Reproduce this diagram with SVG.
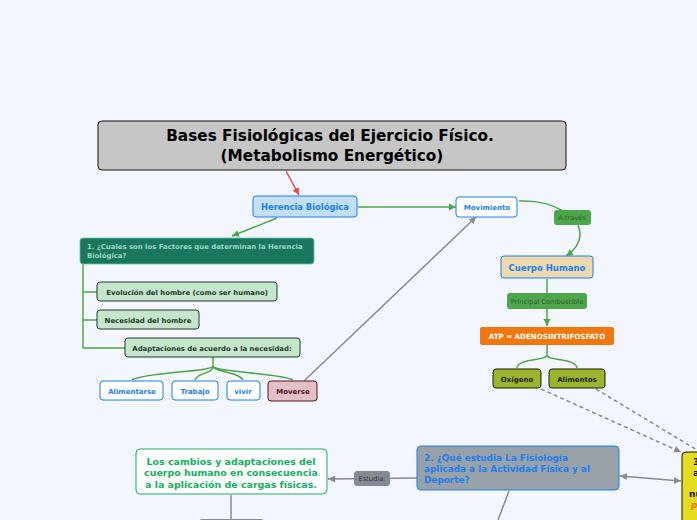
<svg xmlns="http://www.w3.org/2000/svg" width="697" height="520" viewBox="0 0 697 520">
<defs>
<marker id="ag" markerUnits="userSpaceOnUse" markerWidth="8" markerHeight="8" refX="7" refY="4" orient="auto-start-reverse"><path d="M0,0.5L7,4L0,7.5z" fill="#4ea64a"/></marker>
<marker id="ar" markerUnits="userSpaceOnUse" markerWidth="8" markerHeight="8" refX="7" refY="4" orient="auto-start-reverse"><path d="M0,0.5L7,4L0,7.5z" fill="#e8483f"/></marker>
<marker id="ay" markerUnits="userSpaceOnUse" markerWidth="8" markerHeight="8" refX="7" refY="4" orient="auto-start-reverse"><path d="M0,0.5L7,4L0,7.5z" fill="#858b94"/></marker>
</defs>
<style>
text{font-family:"DejaVu Sans",sans-serif;font-weight:700;text-anchor:middle}
.c{fill:none;stroke-width:1.5}
.g{stroke:#4ea64a}.y{stroke:#858b94}
.blue{fill:#fff;stroke:#1a7ff0;stroke-width:1}
.bt{fill:#1a7ff0;font-size:7px}
.lt{fill:#c5e5cc;stroke:#233a2a;stroke-width:1}
.ltt{fill:#233a2a;font-size:6.9px}
.gl{fill:#4ea64a}
.glt{fill:#2d5f33;font-size:6.7px;font-weight:400}
.ol{fill:#9ab52c;stroke:#1c1c10;stroke-width:1}
.olt{fill:#1c1c10;font-size:7px}
.s{text-anchor:start}
</style>
<rect width="697" height="520" fill="#f3f6ff"/>
<g id="connectors">
<path class="c" style="stroke:#e8483f" d="M286,171L299,195" marker-end="url(#ar)"/>
<path class="c g" d="M277,218L232,236" marker-end="url(#ag)"/>
<path class="c g" d="M358,207L456,207" marker-end="url(#ag)"/>
<path class="c g" d="M83,264V348H125M83,292H97M83,320H97"/>
<path class="c g" d="M213,357V366C213,372 145,372 132,380M213,366C213,374 198,372 195,380M213,366C213,372 240,372 243,380M213,366C213,372 280,373 293,380"/>
<path class="c y" d="M304,381L476,217" marker-end="url(#ay)"/>
<path class="c g" d="M519,201C540,200 552,205 563,211"/>
<path class="c g" d="M578,225C584,240 575,250 566,256" marker-end="url(#ag)"/>
<path class="c g" d="M547,279V326" marker-end="url(#ag)"/>
<path class="c g" d="M547,345V355C547,361 518,358 517,368M547,355C547,361 576,358 577,368"/>
<path class="c y" d="M541,389L681,452" stroke-dasharray="4 3" marker-end="url(#ay)"/>
<path class="c y" d="M596,389L697,450" stroke-dasharray="4 3"/>
<path class="c y" d="M620,476L681,481" marker-start="url(#ay)" marker-end="url(#ay)"/>
<path class="c y" d="M417,478L328,479" marker-end="url(#ay)"/>
<path class="c y" d="M231,495V519"/>
<path class="c y" d="M509,491L498,520"/>
</g>
<g id="title"><rect x="98" y="121" width="468" height="49" rx="4" fill="#c6c6c6" stroke="#111"/>
<text x="330" y="141" font-size="15.3" fill="#000">Bases Fisiológicas del Ejercicio Físico.</text><text x="332" y="161" font-size="15.3" fill="#000">(Metabolismo Energético)</text></g>
<g id="herencia"><rect x="253" y="196" width="104" height="21" rx="3" fill="#c3dff5" stroke="#1a7ff0"/><text x="305" y="210" font-size="8.4" fill="#1a7ff0">Herencia Biológica</text></g>
<g id="q1"><rect x="80" y="238" width="234" height="26" rx="3" fill="#19765f" stroke="#5fc8a4" stroke-width="0.8"/>
<text x="87" y="249" font-size="6.9" fill="#9fd8c4" class="s">1. ¿Cuales son los Factores que determinan la Herencia</text><text x="87" y="258" font-size="6.9" fill="#9fd8c4" class="s">Biológica?</text></g>
<g id="evolucion"><rect x="97" y="282" width="180" height="19" rx="3" class="lt"/><text x="187" y="294.5" class="ltt">Evolución del hombre (como ser humano)</text></g>
<g id="necesidad"><rect x="97" y="310" width="102" height="19" rx="3" class="lt"/><text x="148" y="322.5" class="ltt">Necesidad del hombre</text></g>
<g id="adaptaciones"><rect x="125" y="338" width="175" height="19" rx="3" class="lt"/><text x="212" y="350.5" class="ltt">Adaptaciones de acuerdo a la necesidad:</text></g>
<g id="alimentarse"><rect x="100" y="381" width="63" height="19" rx="3" class="blue"/><text x="132" y="394" class="bt">Alimentarse</text></g>
<g id="trabajo"><rect x="172" y="381" width="46" height="19" rx="3" class="blue"/><text x="195" y="394" class="bt">Trabajo</text></g>
<g id="vivir"><rect x="227" y="381" width="33" height="19" rx="3" class="blue"/><text x="243" y="394" class="bt">vivir</text></g>
<g id="moverse"><rect x="268" y="381" width="49" height="20" rx="3" fill="#e2c0c6" stroke="#5a1020"/><text x="293" y="394" font-size="7" fill="#5a1020">Moverse</text></g>
<g id="movimiento"><rect x="456" y="197" width="61" height="20" rx="3" class="blue"/><text x="487" y="210" font-size="7" fill="#1a7ff0">Movimiento</text></g>
<g id="atraves"><rect x="554" y="210" width="37" height="15" rx="3" class="gl"/><text x="572" y="220" class="glt">A través</text></g>
<g id="cuerpo"><rect x="501" y="256" width="92" height="22" rx="3" fill="#ecd9ae" stroke="#1a7ff0"/><text x="547" y="271" font-size="8.5" fill="#1a7ff0">Cuerpo Humano</text></g>
<g id="combustible"><rect x="507" y="293" width="80" height="16" rx="3" class="gl"/><text x="547" y="303.5" class="glt">Principal Combustible</text></g>
<g id="atp"><rect x="480" y="327" width="134" height="18" rx="2" fill="#f0760e"/><text x="547" y="339" font-size="7.1" fill="#fff">ATP = ADENOSINTRIFOSFATO</text></g>
<g id="oxigeno"><rect x="493" y="369" width="48" height="19" rx="3" class="ol"/><text x="517" y="382" class="olt">Oxígeno</text></g>
<g id="alimentos"><rect x="549" y="369" width="56" height="19" rx="3" class="ol"/><text x="577" y="382" class="olt">Alimentos</text></g>
<g id="q2"><rect x="417" y="446" width="202" height="44" rx="4" fill="#99a1a8" stroke="#1a7ff0"/>
<text x="424" y="460.5" font-size="8.9" fill="#1a7ff0" class="s">2. ¿Qué estudia La Fisiología</text><text x="424" y="472" font-size="8.9" fill="#1a7ff0" class="s">aplicada a la Actividad Física y al</text><text x="424" y="483" font-size="8.9" fill="#1a7ff0" class="s">Deporte?</text></g>
<g id="estudia"><rect x="354" y="471" width="36" height="15" rx="3" fill="#858b94"/><text x="372" y="481" class="glt" style="fill:#333">Estudia:</text></g>
<g id="cambios"><rect x="136" y="449" width="191" height="45" rx="4" fill="#fff" stroke="#12b060"/>
<text x="231" y="464.5" font-size="9.45" fill="#12b060">Los cambios y adaptaciones del</text><text x="231" y="475.5" font-size="9.45" fill="#12b060">cuerpo humano en consecuencia</text><text x="231" y="487.5" font-size="9.45" fill="#12b060">a la aplicación de cargas físicas.</text></g>
<g id="gray"><rect x="199" y="519" width="65" height="10" rx="3" fill="#858b94"/></g>
<g id="yellow"><rect x="682" y="452" width="30" height="80" rx="4" fill="#e6dc1e" stroke="#111"/>
<text x="693" y="465" font-size="9" fill="#111" class="s">3</text><text x="693" y="476" font-size="9" fill="#111" class="s">a</text><text x="689" y="497" font-size="9" fill="#111" class="s">nu</text><text x="691" y="508" font-size="9" font-style="italic" fill="#f0760e" class="s">p</text></g>
</svg>
